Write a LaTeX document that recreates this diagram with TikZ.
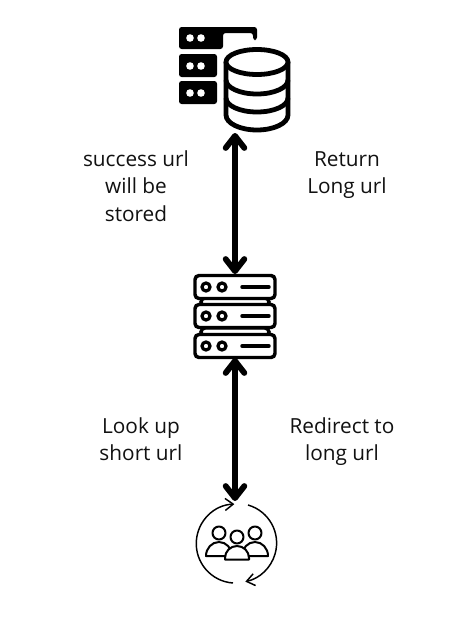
\documentclass[tikz,border=0pt]{standalone}
\usepackage{fontspec}
\setmainfont{Open Sans}
\usetikzlibrary{arrows.meta,positioning,calc}
\definecolor{icon}{HTML}{000000}
\definecolor{darktext}{HTML}{111111}
\tikzset{
  iconbox/.style={inner sep=0pt,outer sep=0pt,minimum width=84pt,text width=0pt},
  caption/.style={align=center,font=\fontsize{15.6}{20.6}\selectfont,text=darktext},
  bigarrow/.style={{Straight Barb[round,length=9pt,width=14pt]}-{Straight Barb[round,length=9pt,width=14pt]},line width=4.4pt,icon},
  rackbox/.style={draw=icon,line width=2.6pt,rounded corners=3pt,fill=white},
  rackdot/.style={draw=icon,line width=2.4pt,fill=white},
  rackline/.style={draw=icon,line width=2.6pt,line cap=round},
  dbline/.style={draw=icon,line width=3.6pt},
  personline/.style={draw=icon,line width=1.5pt,fill=white,line join=round},
  loopline/.style={draw=icon,line width=1.1pt,-{Straight Barb[length=6pt,width=9pt]}}
}
\begin{document}
\begin{tikzpicture}[x=0.75pt,y=-0.75pt]
  \useasboundingbox (0,0) rectangle (474,632);

  % icons are held by empty nodes, the arrows run between them
  \node[iconbox,minimum height=79.5pt] (dbicon) at (235,80) {};
  \node[iconbox,minimum height=63pt] (rackicon) at (235,316) {};
  \node[iconbox,minimum height=63pt] (usersicon) at (235,543) {};

  % Top: servers behind the database
  \fill[icon,rounded corners=2pt] (179,27) -| (257,40) -- (253,40) -- (253,33) -- (223,33) -- (223,49) -- (179,49) -- cycle;
  \fill[icon,rounded corners=2pt] (179,54) rectangle (217,77);
  \fill[icon,rounded corners=2pt] (179,81) rectangle (217,104);
  \foreach \y in {38,66,93}{
    \fill[white] (190,\y) circle[radius=3.8];
    \fill[white] (201,\y) circle[radius=3.8];
  }
  \draw[dbline,fill=white] (226,62) -- (226,115) arc[start angle=180,end angle=0,x radius=31,y radius=15] -- (288,62);
  \draw[dbline,fill=white] (257,62) ellipse[x radius=31,y radius=12.5];
  \draw[dbline] (226,80) arc[start angle=180,end angle=0,x radius=31,y radius=14];
  \draw[dbline] (226,98) arc[start angle=180,end angle=0,x radius=31,y radius=14];

  % Middle: rack of three
  \foreach \y in {298,328}{
    \draw[rackbox] (201,\y) rectangle (269,\y+8);
  }
  \foreach \y in {287,316,346}{
    \draw[rackbox] (195,\y-11.5) rectangle (275,\y+11.5);
    \draw[rackdot] (206,\y) circle[radius=4];
    \draw[rackdot] (222,\y) circle[radius=4];
    \draw[rackline] (242,\y) -- (269,\y);
  }

  % Bottom: group of people in a loop
  \draw[loopline] (248,505) arc[start angle=-74,end angle=78,radius=39.5];
  \draw[loopline] (233,583) arc[start angle=94,end angle=268,radius=39.5];
  \foreach \x in {219,255}{
    \draw[personline] (\x,533) circle[radius=6.5];
    \draw[personline] (\x-13,556) arc[start angle=180,end angle=360,x radius=13,y radius=14] -- cycle;
  }
  \draw[personline] (237,537) circle[radius=6.5];
  \draw[personline] (225,559.5) -- (225,558) arc[start angle=180,end angle=360,x radius=12,y radius=12] -- (249,559.5) -- cycle;

  \draw[bigarrow] (dbicon) -- (rackicon);
  \draw[bigarrow] (rackicon) -- (usersicon);

  \node[caption] (stored) at (136,186) {success url\\will be\\stored};
  \node[caption] (return) at (347,175) {Return\\Long url};
  \node[caption] (lookup) at (141,439) {Look up\\short url};
  \node[caption] (redirect) at (342,441.5) {Redirect to\\long url};
\end{tikzpicture}
\end{document}
